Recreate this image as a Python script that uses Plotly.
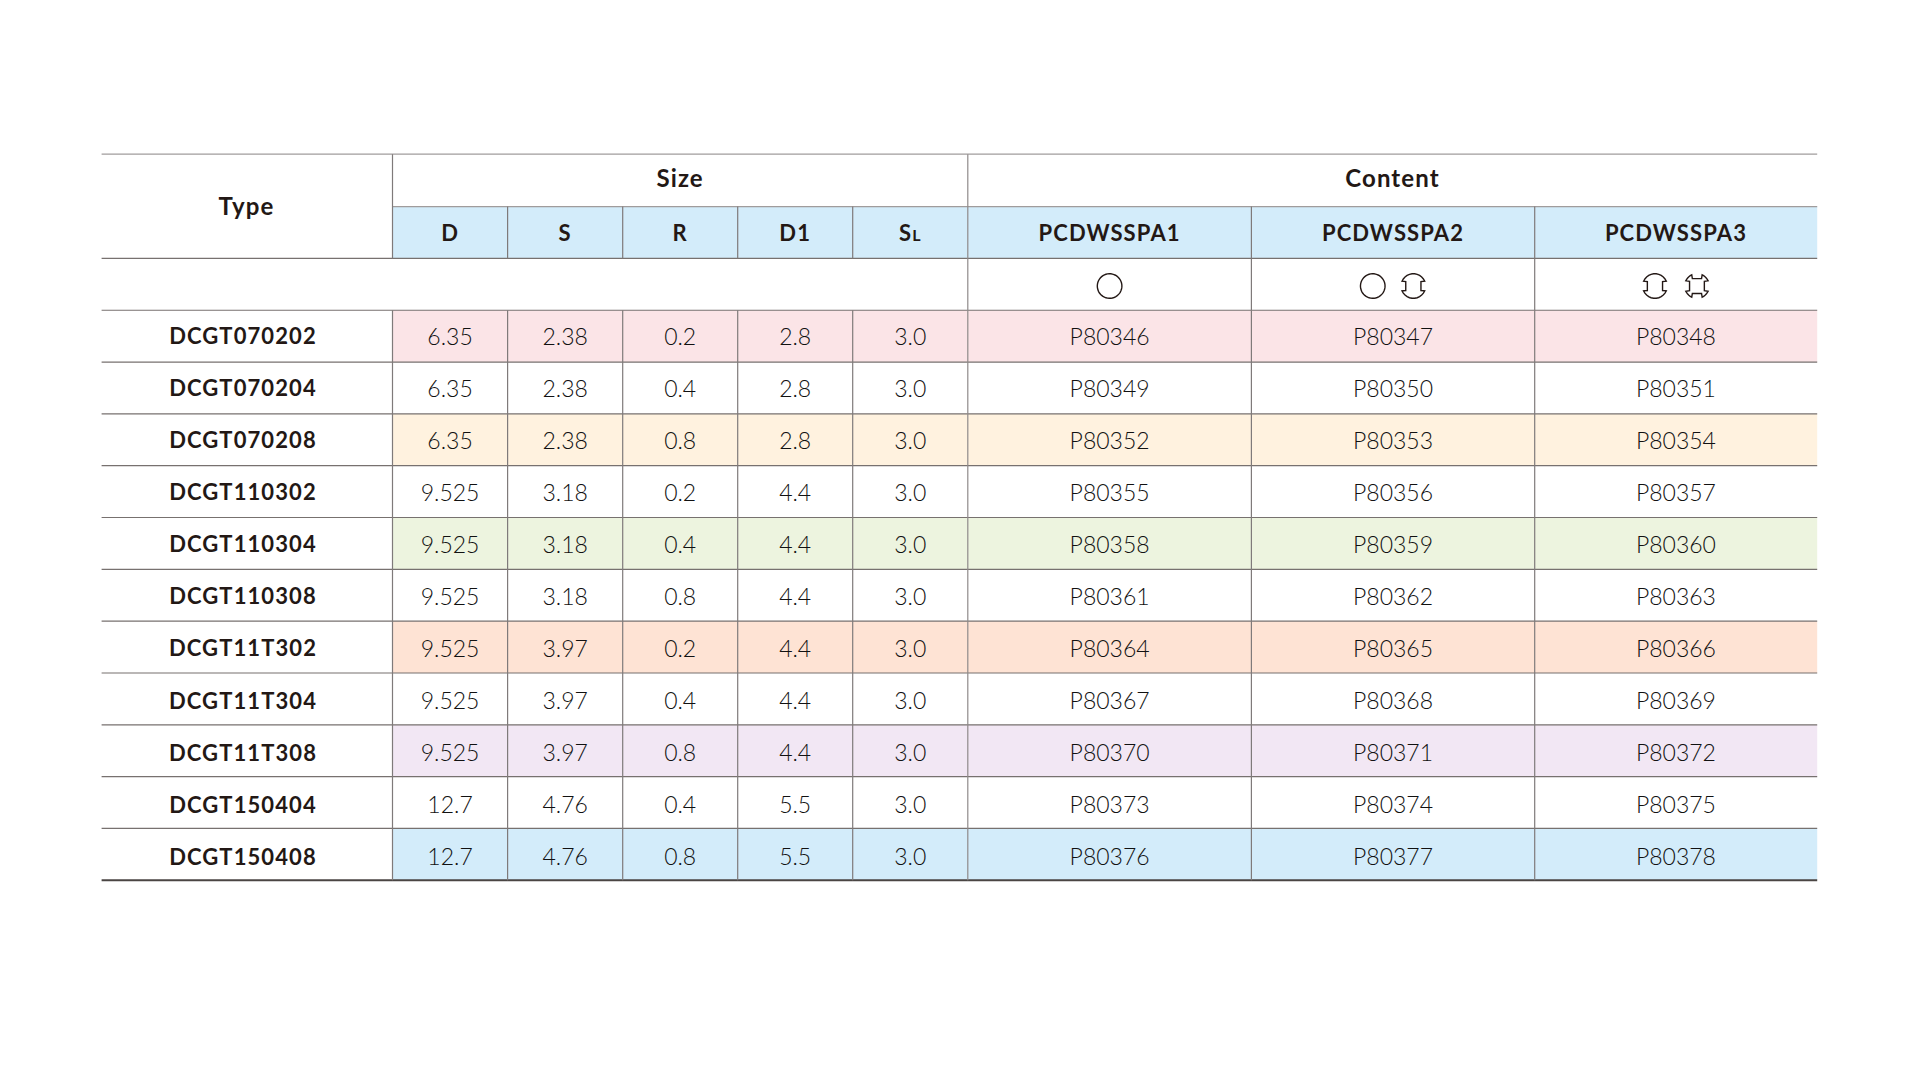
import numpy as np
import plotly.graph_objects as go

# ---- data ----
types = ["DCGT070202", "DCGT070204", "DCGT070208", "DCGT110302", "DCGT110304", "DCGT110308",
         "DCGT11T302", "DCGT11T304", "DCGT11T308", "DCGT150404", "DCGT150408"]
size_d = ["6.35", "6.35", "6.35", "9.525", "9.525", "9.525", "9.525", "9.525", "9.525", "12.7", "12.7"]
size_s = ["2.38", "2.38", "2.38", "3.18", "3.18", "3.18", "3.97", "3.97", "3.97", "4.76", "4.76"]
size_r = ["0.2", "0.4", "0.8", "0.2", "0.4", "0.8", "0.2", "0.4", "0.8", "0.4", "0.8"]
size_d1 = ["2.8", "2.8", "2.8", "4.4", "4.4", "4.4", "4.4", "4.4", "4.4", "5.5", "5.5"]
size_sl = ["3.0"] * 11
pa1 = ["P80346", "P80349", "P80352", "P80355", "P80358", "P80361", "P80364", "P80367", "P80370", "P80373", "P80376"]
pa2 = ["P80347", "P80350", "P80353", "P80356", "P80359", "P80362", "P80365", "P80368", "P80371", "P80374", "P80377"]
pa3 = ["P80348", "P80351", "P80354", "P80357", "P80360", "P80363", "P80366", "P80369", "P80372", "P80375", "P80378"]
sub_headers = ["D", "S", "R", "D1", "S<span style=\"font-size:16px\">L</span>", "PCDWSSPA1", "PCDWSSPA2", "PCDWSSPA3"]
row_fills = ["#FBE4E7", None, "#FFF2DF", None, "#EDF4DF", None, "#FEE3D4", None, "#F2E7F4", None, "#D3ECFA"]

# ---- layout constants (page pixels) ----
HEAD_FILL = "#D3ECFA"
INK = "#231815"
X = [392.5, 507.6, 622.7, 737.7, 852.7, 967.8, 1251.4, 1534.7, 1817.2]
LEFT = 101.6
ROW = 51.82
Y = [154.2] + [206.6 + ROW * i for i in range(14)]
BOLD = dict(family="Lato", size=22, color=INK, weight=700)
TITLE = dict(family="Lato", size=24, color=INK, weight=700)
LIGHT = dict(family="Lato", size=23, color="#111111", weight=300)

fig = go.Figure()


def rect(x0, x1, y0, y1, fill):
    fig.add_shape(type="rect", x0=x0, x1=x1, y0=y0, y1=y1, fillcolor=fill,
                  line_width=0, layer="below")


def line(x0, y0, x1, y1, color="#7F7A7A", width=1.2):
    fig.add_shape(type="line", x0=x0, x1=x1, y0=y0, y1=y1,
                  line=dict(color=color, width=width), layer="below")


def texts(xs, ys, labels, font):
    fig.add_trace(go.Scatter(x=xs, y=ys, text=labels, mode="text", textposition="middle center",
                             textfont=font, hoverinfo="skip", showlegend=False, cliponaxis=False))


# fills
rect(X[0], X[-1], Y[1], Y[2], HEAD_FILL)
for i, c in enumerate(row_fills):
    if c:
        rect(X[0], X[-1], Y[3 + i], Y[4 + i], c)

# horizontal rules
line(LEFT, Y[0], X[-1], Y[0], "#A09C9C")
line(X[0], Y[1], X[-1], Y[1], "#A09C9C")
for k in range(2, 14):
    line(LEFT, Y[k], X[-1], Y[k], "#77716F")
line(LEFT, Y[14], X[-1], Y[14], "#4A4543", 2.2)

# vertical rules
line(X[0], Y[0], X[0], Y[2])
line(X[5], Y[0], X[5], Y[14], "#8F8A8A")
for x in X[1:5] + X[6:8]:
    line(x, Y[1], x, Y[2])
for x in X[6:8]:
    line(x, Y[2], x, Y[3])
for x in [X[0]] + X[1:5] + X[6:8]:
    line(x, Y[3], x, Y[14])

# header text
centers = [(X[i] + X[i + 1]) / 2 for i in range(8)]
texts([246.5], [Y[1] + 2.5], ["Type"], TITLE)
texts([(X[0] + X[5]) / 2, (X[5] + X[8]) / 2], [(Y[0] + Y[1]) / 2 + 1] * 2, ["Size", "Content"], TITLE)
texts(centers, [(Y[1] + Y[2]) / 2 + 3] * 8, sub_headers, BOLD)

# body text
row_y = [(Y[3 + i] + Y[4 + i]) / 2 + 2.6 + 0.22 * i for i in range(11)]
texts([243.0] * 11, row_y, types, BOLD)
for j, col in enumerate([size_d, size_s, size_r, size_d1, size_sl, pa1, pa2, pa3]):
    texts([centers[j]] * 11, row_y, col, LIGHT)


# icons
def arc(cx, cy, a0, a1, r=12.3, n=12):
    t = np.radians(np.linspace(a0, a1, n))
    return [(cx + r * np.cos(a), cy + r * np.sin(a)) for a in t]


def add_path(pts):
    d = "M" + " L".join(f"{px:.2f},{py:.2f}" for px, py in pts) + " Z"
    fig.add_shape(type="path", path=d, line=dict(color=INK, width=1.4), fillcolor="rgba(0,0,0,0)")


def circle_icon(cx, cy):
    add_path(arc(cx, cy, 0, 360, n=48))


def two_notch(cx, cy):
    w, h = 7.6, 4.5
    pts = arc(cx, cy, -157, -23)
    pts += [(cx + w, cy - h), (cx + w, cy + h)]
    pts += arc(cx, cy, 23, 157)
    pts += [(cx - w, cy + h), (cx - w, cy - h)]
    add_path(pts)


def four_notch(cx, cy):
    w, h = 7.4, 4.6
    pts = []
    for q, (sx, sy) in enumerate([(1, -1), (1, 1), (-1, 1), (-1, -1)]):
        base = [-65, 25, 115, 205][q]
        seg = arc(cx, cy, base, base + 40, n=6)
        if q in (0, 2):
            pts += [(cx + sx * h, cy + sy * w)] + seg + [(cx + sx * w, cy + sy * h)]
        else:
            pts += [(cx + sx * w, cy + sy * h)] + seg + [(cx + sx * h, cy + sy * w)]
    add_path(pts)


iy = (Y[2] + Y[3]) / 2 + 1.7
circle_icon(centers[5], iy)
circle_icon(centers[6] - 20.3, iy)
two_notch(centers[6] + 20.3, iy)
two_notch(centers[7] - 21, iy)
four_notch(centers[7] + 21, iy)

fig.update_layout(
    width=1920, height=1080, margin=dict(l=0, r=0, t=0, b=0),
    paper_bgcolor="white", plot_bgcolor="white", showlegend=False,
    xaxis=dict(range=[0, 1920], visible=False, fixedrange=True),
    yaxis=dict(range=[1080, 0], visible=False, fixedrange=True),
)
fig.write_html(
    "out.html", config=dict(displayModeBar=False),
    post_script=(
        "document.body.style.margin='0';"
        "document.querySelectorAll('.textpoint text').forEach(function(t){"
        "if(String(t.style.fontWeight)==='700'){t.style.letterSpacing='1.1px';}});"
    ),
)
